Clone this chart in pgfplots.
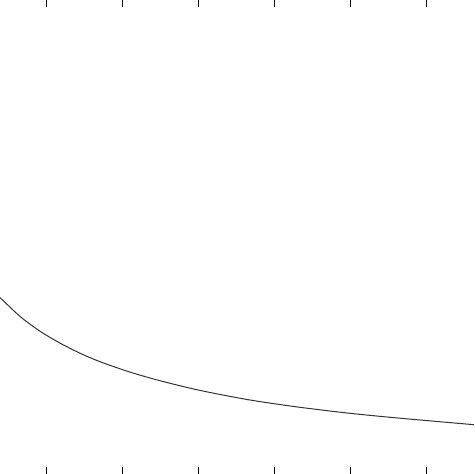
\documentclass[border=0pt]{standalone}
\usepackage{pgfplots}
\pgfplotsset{compat=1.18}
\begin{document}
\begin{tikzpicture}
\begin{axis}[
  name=ax,
  scale only axis,
  width=237pt, height=237pt,
  xmin=0, xmax=474, ymin=0, ymax=474,
  axis line style={draw=none},
  xtick={47,123,199,275,351,427},
  xticklabels={},
  ytick=\empty,
  tick align=inside,
  major tick length=3.5pt,
  xtick pos=both,
  tick style={black, line width=0.5pt},
  clip=true,
]
\addplot[black!80, line width=0.5pt, smooth] coordinates {
(0,176.5) (20,157.6) (40,142.8) (60,130.9) (80,120.8) (100,112.3) (130,101.9)
(160,93.3) (200,83.6) (250,74.0) (300,66.7) (350,60.7) (400,55.8) (474,49.3)
};
\end{axis}
\pgfresetboundingbox
\path[use as bounding box] (ax.south west) rectangle (ax.north east);
\end{tikzpicture}
\end{document}
